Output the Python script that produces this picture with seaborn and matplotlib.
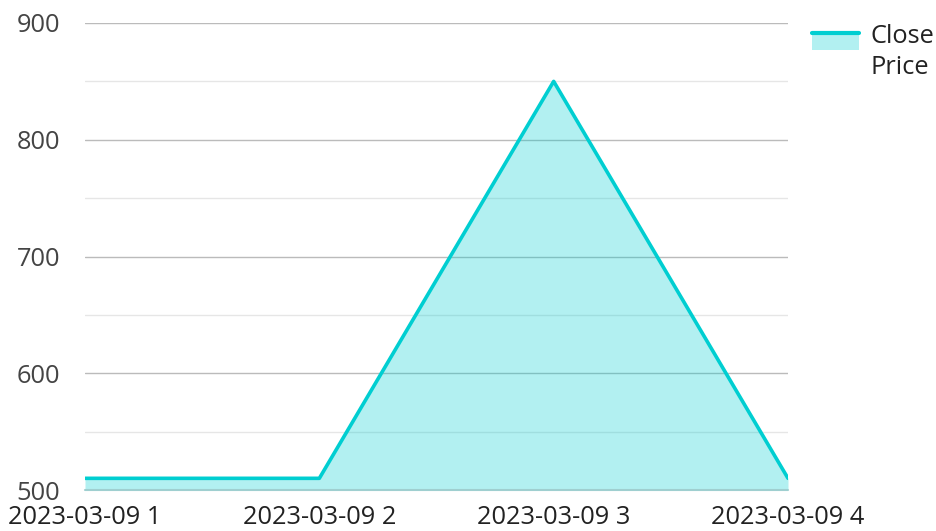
import pandas as pd
import seaborn as sns
import matplotlib.pyplot as plt
from matplotlib.lines import Line2D
from matplotlib.patches import Rectangle
from matplotlib.legend_handler import HandlerBase

# Chart data
dates = ['2023-03-09 1', '2023-03-09 2', '2023-03-09 3', '2023-03-09 4']
close_price = [510, 510, 850, 510]
y_ticks = [500, 600, 700, 800, 900]
y_minor = [550, 650, 750, 850]

LINE_COLOR = '#00CED1'
TEXT_COLOR = '#444444'
FS = 18.3

df = pd.DataFrame({'Date': dates, 'Close Price': close_price})

sns.set_theme(style='white')
plt.rcParams['font.family'] = ['Open Sans', 'DejaVu Sans']


class AreaHandler(HandlerBase):
    # legend swatch: light fill with the line drawn along its top edge
    def create_artists(self, legend, orig_handle, xdescent, ydescent,
                       width, height, fontsize, trans):
        y0 = -ydescent + 8
        rect = Rectangle((-xdescent, y0), width, height,
                         facecolor=LINE_COLOR, alpha=0.3, edgecolor='none',
                         transform=trans)
        line = Line2D([-xdescent, -xdescent + width],
                      [y0 + height, y0 + height],
                      color=LINE_COLOR, linewidth=3, transform=trans)
        return [rect, line]


fig = plt.figure(figsize=(9.36, 5.31), dpi=100)
ax = fig.add_axes([85 / 936, 1 - 490 / 531, (788 - 85) / 936, (490 - 23) / 531])

sns.lineplot(data=df, x='Date', y='Close Price', color=LINE_COLOR,
             linewidth=2.6, ax=ax, zorder=3, legend=False)
ax.fill_between(df['Date'], df['Close Price'], 500, color=LINE_COLOR,
                alpha=0.3, linewidth=0, zorder=2)

ax.set_ylim(500, 900)
ax.set_xlim(0, len(dates) - 1)
ax.set_yticks(y_ticks)
ax.set_yticks(y_minor, minor=True)
ax.grid(axis='y', which='major', color='#bbbbbb', linewidth=1, zorder=0)
ax.grid(axis='y', which='minor', color='#e6e6e6', linewidth=1, zorder=0)
ax.grid(axis='x', visible=False)
ax.axhline(500, color='#9fcfd0', linewidth=1.5, zorder=2.5, clip_on=False)
ax.set_axisbelow(True)

for side in ['top', 'right', 'left', 'bottom']:
    ax.spines[side].set_visible(False)

ax.set_xlabel('')
ax.set_ylabel('')
ax.tick_params(axis='y', which='both', length=0, pad=18, labelsize=FS,
               labelcolor=TEXT_COLOR)
ax.tick_params(axis='x', length=0, pad=11, labelsize=FS, labelcolor='#222222')

leg = fig.legend([Rectangle((0, 0), 1, 1)], ['Close\nPrice'],
                 handler_map={Rectangle: AreaHandler()},
                 loc='upper left', bbox_to_anchor=(812 / 936, 1 - 24 / 531),
                 frameon=False, fontsize=FS, handlelength=1.85,
                 handleheight=0.6, handletextpad=0.45, labelcolor='#222222',
                 borderpad=0, borderaxespad=0)
for t in leg.get_texts():
    t.set_linespacing(1.32)

fig.savefig('out.png', dpi=100)
